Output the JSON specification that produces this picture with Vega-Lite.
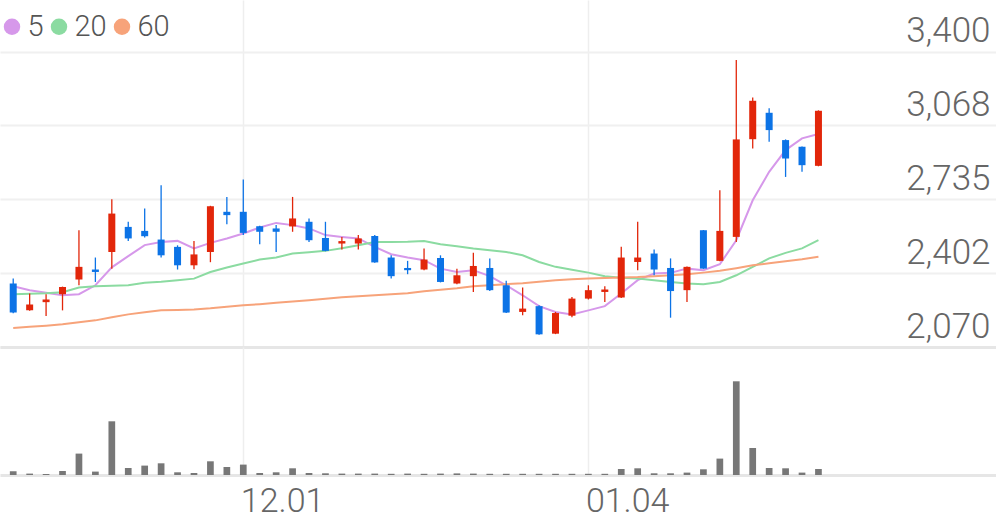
{
  "$schema": "https://vega.github.io/schema/vega-lite/v6.json",
  "padding": {"left": 0, "top": 0, "right": 0, "bottom": 0},
  "background": "white",
  "spacing": 0,
  "config": {
    "view": {"stroke": null},
    "font": "Roboto"
  },
  "datasets": {
    "candles": [
      {"i":0,"date":"2020-11-11","open":2356,"high":2378,"low":2222,"close":2225,"vol":37,"ma5":2344,"ma20":2308,"ma60":2156},
      {"i":1,"date":"2020-11-12","open":2235,"high":2311,"low":2233,"close":2261,"vol":14,"ma5":2326,"ma20":2310,"ma60":2161},
      {"i":2,"date":"2020-11-13","open":2272,"high":2308,"low":2210,"close":2284,"vol":10,"ma5":2314,"ma20":2312,"ma60":2166},
      {"i":3,"date":"2020-11-16","open":2308,"high":2342,"low":2235,"close":2340,"vol":40,"ma5":2303,"ma20":2317,"ma60":2172},
      {"i":4,"date":"2020-11-17","open":2374,"high":2596,"low":2348,"close":2431,"vol":214,"ma5":2308,"ma20":2338,"ma60":2181},
      {"i":5,"date":"2020-11-18","open":2419,"high":2473,"low":2363,"close":2408,"vol":34,"ma5":2348,"ma20":2344,"ma60":2190},
      {"i":6,"date":"2020-11-19","open":2498,"high":2735,"low":2423,"close":2671,"vol":537,"ma5":2429,"ma20":2346,"ma60":2204},
      {"i":7,"date":"2020-11-20","open":2611,"high":2634,"low":2547,"close":2559,"vol":70,"ma5":2479,"ma20":2348,"ma60":2217},
      {"i":8,"date":"2020-11-23","open":2593,"high":2694,"low":2563,"close":2569,"vol":94,"ma5":2529,"ma20":2359,"ma60":2226},
      {"i":9,"date":"2020-11-24","open":2554,"high":2799,"low":2473,"close":2483,"vol":117,"ma5":2543,"ma20":2364,"ma60":2235},
      {"i":10,"date":"2020-11-25","open":2521,"high":2528,"low":2419,"close":2438,"vol":27,"ma5":2548,"ma20":2371,"ma60":2237},
      {"i":11,"date":"2020-11-26","open":2438,"high":2548,"low":2420,"close":2487,"vol":20,"ma5":2514,"ma20":2378,"ma60":2239},
      {"i":12,"date":"2020-11-27","open":2498,"high":2706,"low":2452,"close":2704,"vol":137,"ma5":2539,"ma20":2408,"ma60":2244},
      {"i":13,"date":"2020-11-30","open":2679,"high":2746,"low":2623,"close":2664,"vol":80,"ma5":2559,"ma20":2428,"ma60":2251},
      {"i":14,"date":"2020-12-01","open":2679,"high":2825,"low":2574,"close":2584,"vol":104,"ma5":2581,"ma20":2446,"ma60":2258},
      {"i":15,"date":"2020-12-02","open":2614,"high":2616,"low":2533,"close":2589,"vol":20,"ma5":2608,"ma20":2464,"ma60":2263},
      {"i":16,"date":"2020-12-03","open":2604,"high":2619,"low":2498,"close":2589,"vol":27,"ma5":2629,"ma20":2473,"ma60":2269},
      {"i":17,"date":"2020-12-04","open":2613,"high":2746,"low":2589,"close":2649,"vol":67,"ma5":2619,"ma20":2491,"ma60":2275},
      {"i":18,"date":"2020-12-07","open":2634,"high":2649,"low":2543,"close":2551,"vol":20,"ma5":2604,"ma20":2497,"ma60":2281},
      {"i":19,"date":"2020-12-08","open":2561,"high":2634,"low":2501,"close":2503,"vol":17,"ma5":2574,"ma20":2503,"ma60":2287},
      {"i":20,"date":"2020-12-09","open":2536,"high":2566,"low":2509,"close":2547,"vol":14,"ma5":2566,"ma20":2515,"ma60":2294},
      {"i":21,"date":"2020-12-10","open":2536,"high":2574,"low":2509,"close":2559,"vol":14,"ma5":2559,"ma20":2528,"ma60":2299},
      {"i":22,"date":"2020-12-11","open":2570,"high":2574,"low":2450,"close":2451,"vol":14,"ma5":2521,"ma20":2543,"ma60":2303},
      {"i":23,"date":"2020-12-14","open":2473,"high":2483,"low":2378,"close":2389,"vol":12,"ma5":2488,"ma20":2543,"ma60":2308},
      {"i":24,"date":"2020-12-15","open":2426,"high":2458,"low":2398,"close":2416,"vol":14,"ma5":2473,"ma20":2544,"ma60":2312},
      {"i":25,"date":"2020-12-16","open":2419,"high":2514,"low":2416,"close":2464,"vol":12,"ma5":2461,"ma20":2547,"ma60":2321},
      {"i":26,"date":"2020-12-17","open":2471,"high":2483,"low":2361,"close":2363,"vol":14,"ma5":2423,"ma20":2533,"ma60":2328},
      {"i":27,"date":"2020-12-18","open":2356,"high":2423,"low":2353,"close":2393,"vol":16,"ma5":2408,"ma20":2524,"ma60":2335},
      {"i":28,"date":"2020-12-21","open":2389,"high":2494,"low":2318,"close":2435,"vol":14,"ma5":2416,"ma20":2514,"ma60":2344},
      {"i":29,"date":"2020-12-22","open":2426,"high":2469,"low":2322,"close":2326,"vol":12,"ma5":2389,"ma20":2506,"ma60":2348},
      {"i":30,"date":"2020-12-23","open":2348,"high":2368,"low":2223,"close":2225,"vol":12,"ma5":2348,"ma20":2498,"ma60":2353},
      {"i":31,"date":"2020-12-24","open":2228,"high":2338,"low":2213,"close":2243,"vol":12,"ma5":2303,"ma20":2483,"ma60":2357},
      {"i":32,"date":"2020-12-28","open":2254,"high":2258,"low":2125,"close":2127,"vol":12,"ma5":2254,"ma20":2453,"ma60":2364},
      {"i":33,"date":"2020-12-29","open":2130,"high":2228,"low":2128,"close":2223,"vol":12,"ma5":2228,"ma20":2431,"ma60":2371},
      {"i":34,"date":"2020-12-30","open":2211,"high":2295,"low":2204,"close":2288,"vol":12,"ma5":2217,"ma20":2418,"ma60":2375},
      {"i":35,"date":"2021-01-04","open":2288,"high":2348,"low":2284,"close":2326,"vol":12,"ma5":2235,"ma20":2405,"ma60":2378},
      {"i":36,"date":"2021-01-05","open":2318,"high":2344,"low":2273,"close":2329,"vol":12,"ma5":2254,"ma20":2389,"ma60":2381},
      {"i":37,"date":"2021-01-06","open":2293,"high":2521,"low":2291,"close":2473,"vol":60,"ma5":2311,"ma20":2382,"ma60":2383},
      {"i":38,"date":"2021-01-07","open":2453,"high":2634,"low":2416,"close":2473,"vol":67,"ma5":2371,"ma20":2378,"ma60":2385},
      {"i":39,"date":"2021-01-08","open":2491,"high":2509,"low":2393,"close":2419,"vol":17,"ma5":2401,"ma20":2371,"ma60":2389},
      {"i":40,"date":"2021-01-11","open":2426,"high":2469,"low":2202,"close":2322,"vol":17,"ma5":2404,"ma20":2363,"ma60":2393},
      {"i":41,"date":"2021-01-12","open":2326,"high":2433,"low":2273,"close":2431,"vol":24,"ma5":2423,"ma20":2356,"ma60":2398},
      {"i":42,"date":"2021-01-13","open":2596,"high":2597,"low":2422,"close":2423,"vol":57,"ma5":2416,"ma20":2353,"ma60":2405},
      {"i":43,"date":"2021-01-14","open":2458,"high":2776,"low":2456,"close":2593,"vol":164,"ma5":2443,"ma20":2363,"ma60":2413},
      {"i":44,"date":"2021-01-15","open":2566,"high":3363,"low":2543,"close":3005,"vol":937,"ma5":2551,"ma20":2393,"ma60":2425},
      {"i":45,"date":"2021-01-18","open":3006,"high":3194,"low":2964,"close":3179,"vol":270,"ma5":2731,"ma20":2431,"ma60":2438},
      {"i":46,"date":"2021-01-19","open":3125,"high":3145,"low":2994,"close":3047,"vol":70,"ma5":2859,"ma20":2469,"ma60":2447},
      {"i":47,"date":"2021-01-20","open":3002,"high":3005,"low":2836,"close":2919,"vol":67,"ma5":2957,"ma20":2494,"ma60":2456},
      {"i":48,"date":"2021-01-21","open":2972,"high":2973,"low":2859,"close":2889,"vol":24,"ma5":3010,"ma20":2514,"ma60":2465},
      {"i":49,"date":"2021-01-22","open":2886,"high":3136,"low":2884,"close":3134,"vol":60,"ma5":3029,"ma20":2551,"ma60":2476}
    ]
  },
  "vconcat": [
    {
      "width": 996,
      "height": 347,
      "data": {"name": "candles"},
      "layer": [
        {
          "transform": [{"fold": ["ma5", "ma20", "ma60"], "as": ["ma", "v"]}],
          "mark": {"type": "line", "strokeWidth": 2},
          "encoding": {
            "x": {
              "field": "i", "type": "quantitative",
              "scale": {"domain": [-0.5, 59.5], "nice": false, "zero": false},
              "axis": {"values": [14, 35], "labels": false, "ticks": false, "tickSize": 0, "domain": true, "domainColor": "#e6e6e6", "domainWidth": 3, "grid": true, "gridColor": "#eeeeee", "gridWidth": 1.5, "title": null}
            },
            "y": {
              "field": "v", "type": "quantitative",
              "scale": {"domain": [2070, 3633], "nice": false, "zero": false},
              "axis": {"orient": "right", "values": [2070, 2402, 2735, 3068, 3400], "format": ",.0f", "domain": false, "ticks": false, "tickSize": 0, "grid": true, "gridColor": "#f0f0f0", "gridWidth": 2, "labelAlign": "right", "labelBaseline": "alphabetic", "labelOffset": -10, "labelPadding": -6, "labelFontSize": 35, "labelFont": "Roboto", "labelFontWeight": 300, "labelColor": "#666666", "labelFlush": false, "labelOverlap": false, "labelBound": false, "title": null}
            },
            "color": {
              "field": "ma", "type": "nominal",
              "scale": {"domain": ["ma5", "ma20", "ma60"], "range": ["#d698ea", "#8bdba1", "#f7a37a"]},
              "legend": {"orient": "none", "legendX": 0, "legendY": 12, "padding": 0, "direction": "horizontal", "title": null, "symbolType": "circle", "symbolSize": 270, "symbolOffset": -2.5, "symbolStrokeWidth": 0, "labelFontSize": 29, "labelFont": "Roboto", "labelFontWeight": 300, "labelColor": "#555555", "labelOffset": 1, "columnPadding": 3, "labelExpr": "datum.label == 'ma5' ? '5' : datum.label == 'ma20' ? '20' : '60'", "encode": {"symbols": {"update": {"fill": {"scale": "color", "field": "value"}, "opacity": {"value": 1}}}}}
            }
          }
        },
        {
          "mark": {"type": "rule", "strokeWidth": 1.3},
          "encoding": {
            "x": {"field": "i", "type": "quantitative"},
            "y": {"field": "low", "type": "quantitative"},
            "y2": {"field": "high"},
            "color": {"condition": {"test": "datum.close >= datum.open", "value": "#e2260a"}, "value": "#0c73e6"}
          }
        },
        {
          "mark": {"type": "bar", "width": 7},
          "encoding": {
            "x": {"field": "i", "type": "quantitative"},
            "y": {"field": "open", "type": "quantitative"},
            "y2": {"field": "close"},
            "color": {"condition": {"test": "datum.close >= datum.open", "value": "#e2260a"}, "value": "#0c73e6"}
          }
        }
      ]
    },
    {
      "width": 996,
      "height": 128,
      "data": {"name": "candles"},
      "mark": {"type": "bar", "width": 6.7, "color": "#777777"},
      "encoding": {
        "x": {
          "field": "i", "type": "quantitative",
          "scale": {"domain": [-0.5, 59.5], "nice": false, "zero": false},
          "axis": {"values": [14, 35], "labelExpr": "datum.value == 14 ? '12.01' : '01.04'", "ticks": false, "tickSize": 0, "domain": true, "domainColor": "#e6e6e6", "domainWidth": 3, "grid": true, "gridColor": "#eeeeee", "gridWidth": 1.5, "labelAlign": "left", "labelBaseline": "alphabetic", "labelPadding": 36, "labelOffset": -3, "labelFontSize": 34, "labelFont": "Roboto", "labelFontWeight": 300, "labelColor": "#666666", "labelFlush": false, "labelOverlap": false, "title": null}
        },
        "y": {
          "field": "vol", "type": "quantitative",
          "scale": {"domain": [0, 1280], "nice": false},
          "axis": null
        }
      }
    }
  ]
}
